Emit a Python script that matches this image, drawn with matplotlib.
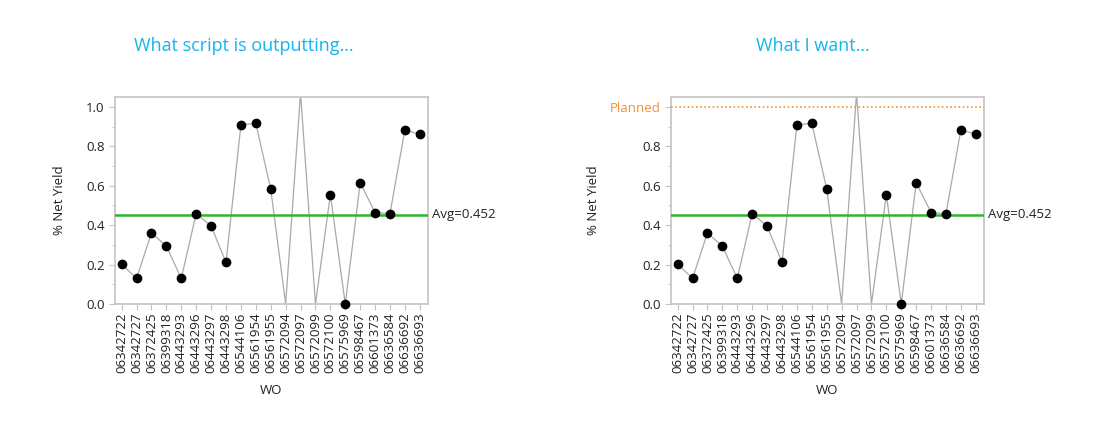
import numpy as np
import matplotlib.pyplot as plt
from matplotlib.ticker import MultipleLocator

plt.rcParams['font.family'] = ['Open Sans', 'DejaVu Sans']

# data
wo = ["06342722", "06342727", "06372425", "06399318", "06443293", "06443296",
      "06443297", "06443298", "06544106", "06561954", "06561955", "06572094",
      "06572097", "06572099", "06572100", "06575969", "06598467", "06601373",
      "06636584", "06636692", "06636693"]
net_yield = [0.202, 0.130, 0.361, 0.293, 0.130, 0.459, 0.395, 0.211, 0.909,
             0.916, 0.583, 0.0, 1.07, 0.0, 0.555, 0.0, 0.615, 0.464, 0.459,
             0.884, 0.860]
# rows drawn without a marker
no_marker = ["06572094", "06572097", "06572099"]
avg = 0.452
planned = 1.0
titles = ["What script is outputting…", "What I want…"]

grey = "#c4c4c4"
fig = plt.figure(figsize=(11.14, 4.34), dpi=100)

for i, title in enumerate(titles):
    x0 = [0.1032, 0.6023][i]
    ax = fig.add_axes([x0, 0.2995, 0.281, 0.477])
    x = np.arange(len(wo))
    y = np.array(net_yield)
    ax.plot(x, y, color="#a9a9a9", lw=0.9, zorder=2)
    show = np.array([w not in no_marker for w in wo])
    ax.plot(x[show], y[show], "o", color="black", ms=6, zorder=4, clip_on=False)
    ax.axhline(avg, color="#2db52d", lw=1.8, zorder=3)
    ax.text(1.012, avg, f"Avg={avg}", transform=ax.get_yaxis_transform(),
            va="center", ha="left", fontsize=9.5, color="#222222")
    ax.set_xlim(-0.45, len(wo) - 0.45)
    ax.set_ylim(0, 1.05)
    ax.yaxis.set_major_locator(MultipleLocator(0.2))
    ax.yaxis.set_minor_locator(MultipleLocator(0.1))
    ax.set_xticks(x)
    ax.set_xticklabels(wo, rotation=90, fontsize=9.5, color="#222222")
    ax.tick_params(axis="y", labelsize=9.5, labelcolor="#222222", color=grey, length=4)
    ax.tick_params(axis="y", which="minor", color=grey, length=2.5)
    ax.tick_params(axis="x", color=grey, length=4, pad=2)
    for s in ax.spines.values():
        s.set_color(grey)
        s.set_linewidth(1.2)
    ax.set_ylabel("% Net Yield", fontsize=9.5, color="#222222")
    ax.yaxis.set_label_coords([-0.157, -0.227][i], 0.5)
    ax.set_xlabel("WO", fontsize=9.5, color="#222222", labelpad=8)
    if i == 1:
        ax.axhline(planned, color="#f0913a", lw=1.2, ls=(0, (1, 1.5)), zorder=3)
        ticks = [0.0, 0.2, 0.4, 0.6, 0.8, planned]
        ax.set_yticks(ticks)
        ax.set_yticklabels([f"{t:.1f}" for t in ticks[:-1]] + ["Planned"])
        ax.get_yticklabels()[-1].set_color("#f0913a")
    else:
        ax.set_yticks([0.0, 0.2, 0.4, 0.6, 0.8, 1.0])
        ax.set_yticklabels(["0.0", "0.2", "0.4", "0.6", "0.8", "1.0"])
    fig.text([0.219, 0.730][i], 0.893, title, ha="center", va="center",
             fontsize=13, color="#14b4ee")

fig.savefig("out.png", dpi=100)
